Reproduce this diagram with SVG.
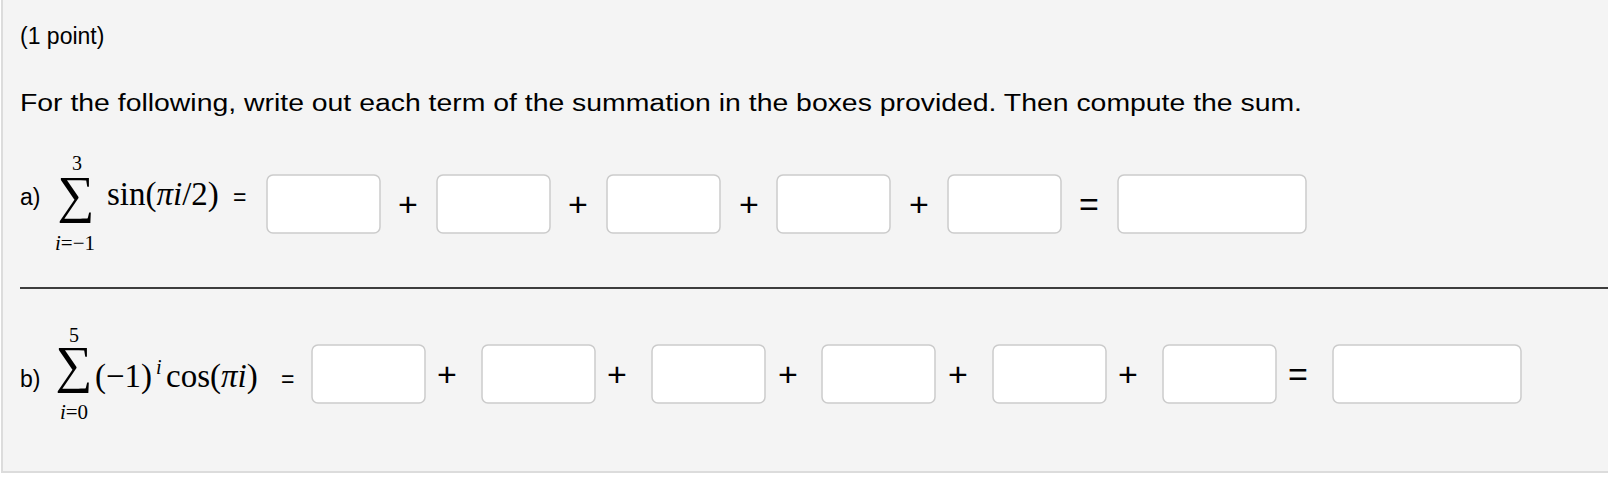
<svg xmlns="http://www.w3.org/2000/svg" width="1608" height="478" viewBox="0 0 1608 478">
<style>
.bg{fill:#f4f4f4;stroke:#dcdcdc;stroke-width:2}
.box{fill:#fff;stroke:#cbcbcb;stroke-width:1.5}
.t{font-family:"Liberation Sans",Arial,sans-serif;font-size:23px;fill:#000}
.m{font-family:"Liberation Serif","Times New Roman",serif;fill:#000}
.op{font-family:"Liberation Sans",Arial,sans-serif;font-size:34px;fill:#000}
</style>
<rect class="bg" x="2" y="-2" width="1620" height="474"/>
<text class="t" x="20" y="44">(1 point)</text>
<text class="t" x="20" y="111" textLength="1282" lengthAdjust="spacingAndGlyphs">For the following, write out each term of the summation in the boxes provided. Then compute the sum.</text>
<line x1="20" y1="288" x2="1608" y2="288" stroke="#000" stroke-width="1.5"/>
<g id="partA">
<text class="t" x="20" y="205">a)</text>
<text class="m" x="76" y="212" font-size="52" text-anchor="middle">∑</text>
<text class="m" x="77" y="170" font-size="20" text-anchor="middle">3</text>
<text class="m" x="75" y="250" font-size="21" text-anchor="middle"><tspan font-style="italic">i</tspan>=−1</text>
<text class="m" x="107" y="205" font-size="33">sin(<tspan font-style="italic">πi</tspan>/2)</text>
<text class="t" x="233" y="205">=</text>
</g>
<g id="boxesA">
<rect class="box" x="267" y="175" width="113" height="58" rx="6"/>
<rect class="box" x="437" y="175" width="113" height="58" rx="6"/>
<rect class="box" x="607" y="175" width="113" height="58" rx="6"/>
<rect class="box" x="777" y="175" width="113" height="58" rx="6"/>
<rect class="box" x="948" y="175" width="113" height="58" rx="6"/>
<rect class="box" x="1118" y="175" width="188" height="58" rx="6"/>
<text class="op" x="408" y="216" text-anchor="middle">+</text>
<text class="op" x="578" y="216" text-anchor="middle">+</text>
<text class="op" x="749" y="216" text-anchor="middle">+</text>
<text class="op" x="919" y="216" text-anchor="middle">+</text>
<text class="op" x="1089" y="216" text-anchor="middle">=</text>
</g>
<g id="partB">
<text class="t" x="20" y="387">b)</text>
<text class="m" x="74" y="382" font-size="52" text-anchor="middle">∑</text>
<text class="m" x="74" y="342" font-size="20" text-anchor="middle">5</text>
<text class="m" x="74" y="419" font-size="21" text-anchor="middle"><tspan font-style="italic">i</tspan>=0</text>
<text class="m" x="95" y="387" font-size="33">(−1)</text>
<text class="m" x="156" y="374" font-size="20" font-style="italic">i</text>
<text class="m" x="166" y="387" font-size="33">cos(<tspan font-style="italic">πi</tspan>)</text>
<text class="t" x="281" y="387">=</text>
</g>
<g id="boxesB">
<rect class="box" x="312" y="345" width="113" height="58" rx="6"/>
<rect class="box" x="482" y="345" width="113" height="58" rx="6"/>
<rect class="box" x="652" y="345" width="113" height="58" rx="6"/>
<rect class="box" x="822" y="345" width="113" height="58" rx="6"/>
<rect class="box" x="993" y="345" width="113" height="58" rx="6"/>
<rect class="box" x="1163" y="345" width="113" height="58" rx="6"/>
<rect class="box" x="1333" y="345" width="188" height="58" rx="6"/>
<text class="op" x="447" y="386" text-anchor="middle">+</text>
<text class="op" x="617" y="386" text-anchor="middle">+</text>
<text class="op" x="788" y="386" text-anchor="middle">+</text>
<text class="op" x="958" y="386" text-anchor="middle">+</text>
<text class="op" x="1128" y="386" text-anchor="middle">+</text>
<text class="op" x="1298" y="386" text-anchor="middle">=</text>
</g>
</svg>
